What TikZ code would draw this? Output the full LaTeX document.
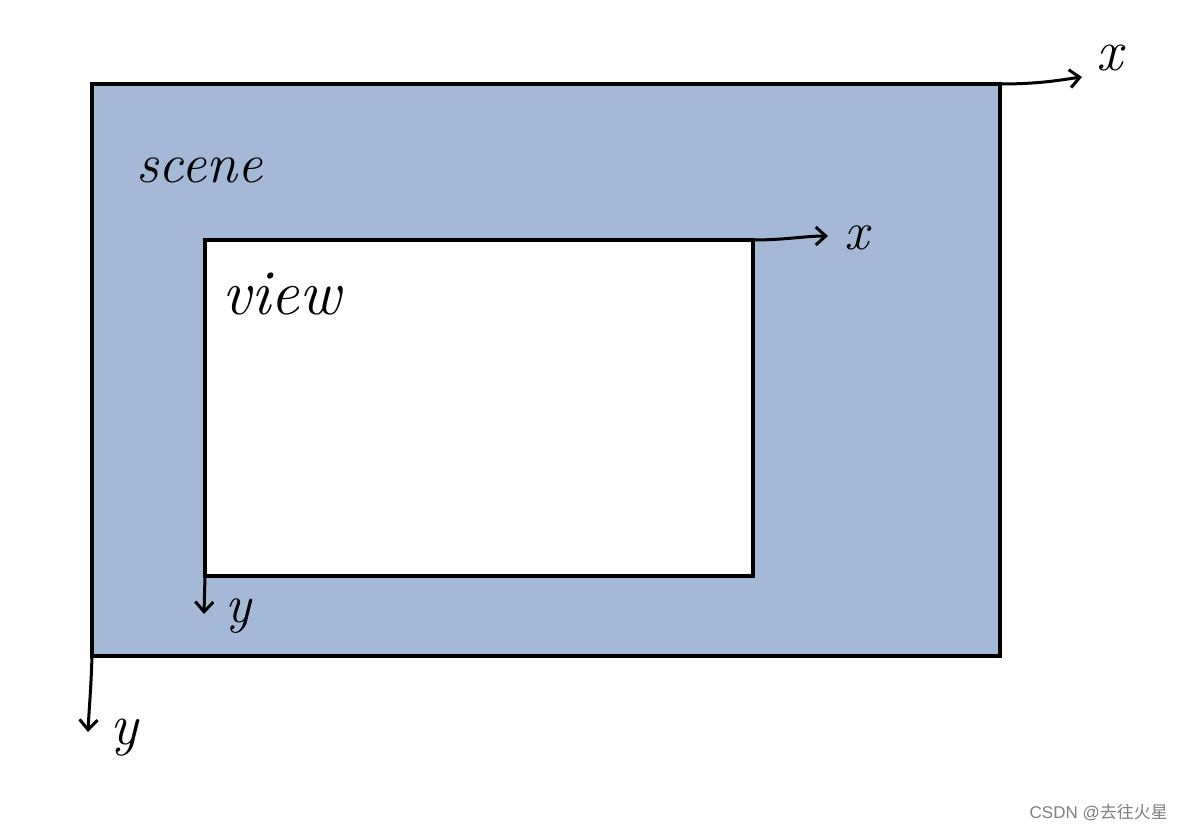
\documentclass[tikz,border=0pt]{standalone}
\usepackage{fontspec}
\newfontfamily\cjk{Noto Sans CJK SC}
\newfontfamily\wmfont{Liberation Sans}
\usetikzlibrary{arrows.meta}
\definecolor{scenefill}{HTML}{A3B9D6}
\tikzset{
  frame/.style={draw=black, line width=4.5pt, inner sep=0pt, outer sep=0pt},
  axis/.style={draw=black, line width=3pt, line cap=round, -{Straight Barb[length=10pt,width=18pt,line width=3pt]}},
  hand/.style={font=\itshape\fontsize{#1}{#1}\selectfont, inner sep=0pt},
}
\begin{document}
\begin{tikzpicture}[x=1pt,y=-1pt]
\useasboundingbox (0,0) rectangle (1184,832);
\fill[white] (0,0) rectangle (1184,832);
\node[frame, fill=scenefill, minimum width=908pt, minimum height=572pt] (scene) at (546,370) {};
\node[frame, fill=white, minimum width=548pt, minimum height=336pt] (view) at (479,408) {};
\node[hand=56, anchor=west] (scenelbl) at (136,170) {scene};
\node[hand=64, anchor=west] (viewlbl) at (222,294) {view};
% scene axes
\coordinate (sx) at (1082,77);
\coordinate (sy) at (88,732);
\draw[axis] (scene.north east) .. controls (1040,84) and (1060,80) .. (sx);
\draw[axis] (scene.south west) .. controls (91,690) and (89,710) .. (sy);
\node[hand=58] (sxl) at (1110,58) {x};
\node[hand=58] (syl) at (124,738) {y};
% view axes
\coordinate (vx) at (828,236);
\coordinate (vy) at (204,614);
\draw[axis] (view.north east) .. controls (785,240) and (805,236) .. (vx);
\draw[axis] (view.south west) -- (vy);
\node[hand=54] (vxl) at (857,238) {x};
\node[hand=54] (vyl) at (238,616) {y};
% watermark
\node[anchor=east, text=black!50, font=\wmfont\fontsize{17}{17}\selectfont, inner sep=0pt] (wm) at (1168,812) {CSDN @{\cjk 去往火星}};
\end{tikzpicture}
\end{document}
